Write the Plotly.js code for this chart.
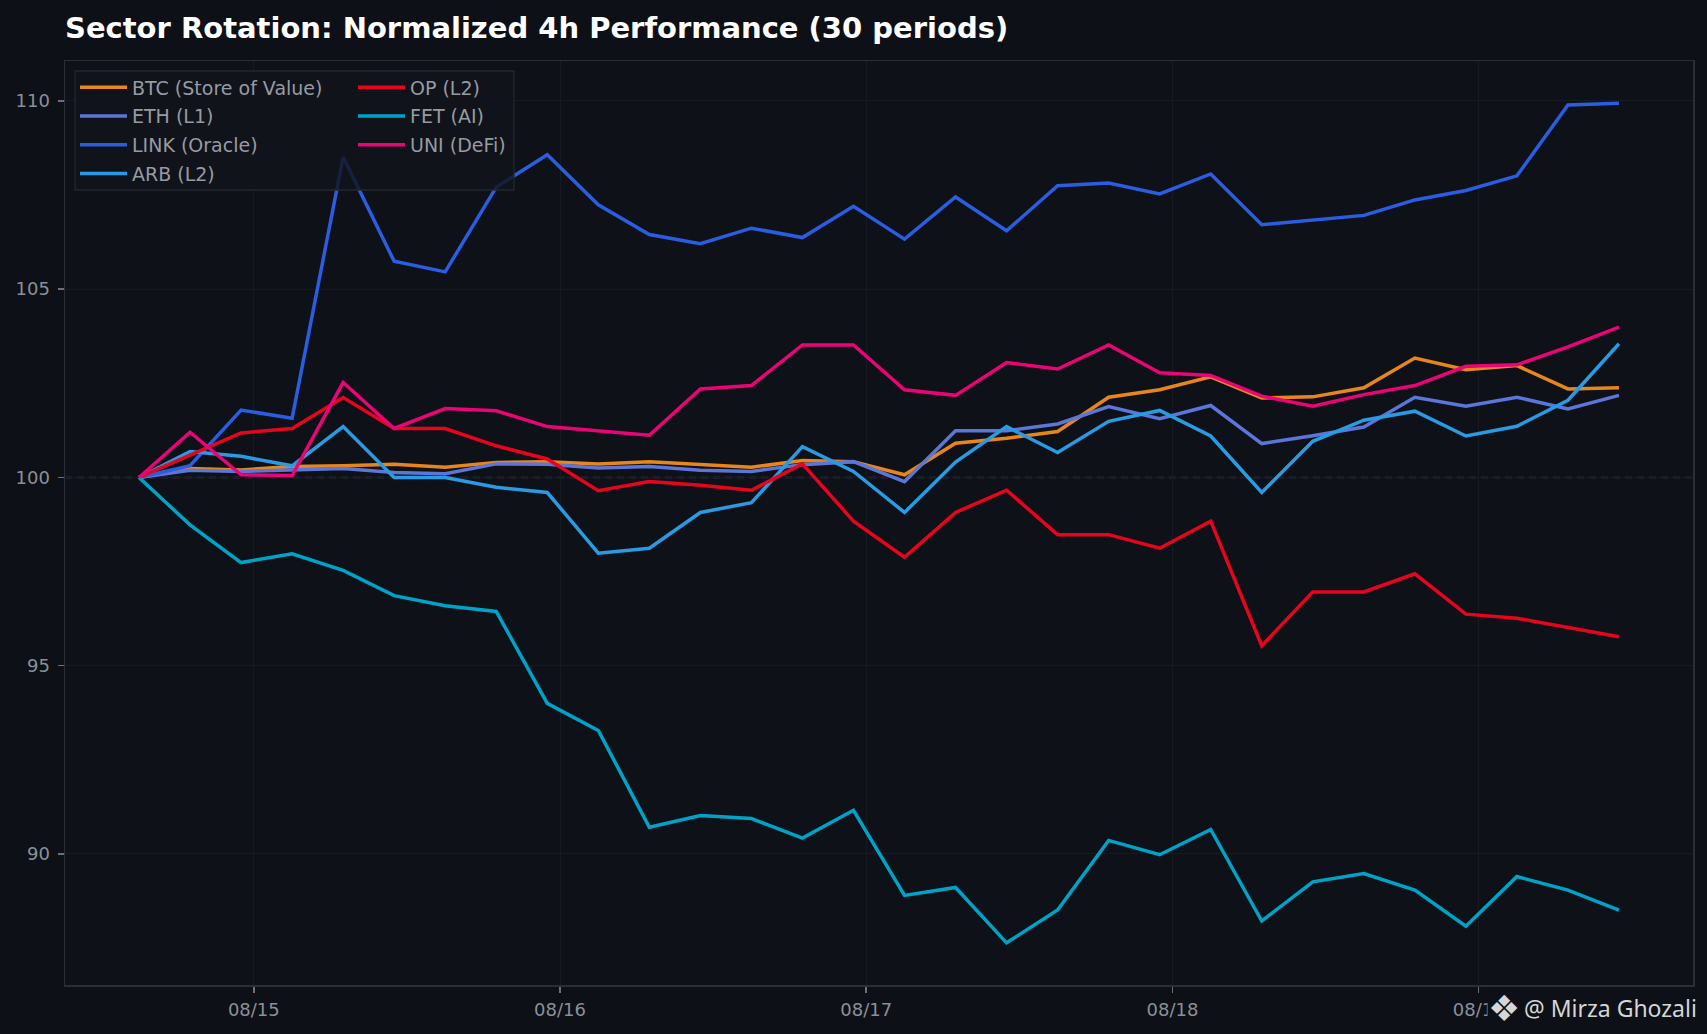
<!DOCTYPE html>
<html>
<head>
<meta charset="utf-8">
<script src="https://cdn.plot.ly/plotly-3.0.1.min.js"></script>
<style>
  html, body { margin: 0; padding: 0; background: #0d1016; }
  #data { width: 1707px; height: 1034px; }
</style>
</head>
<body>
<div id="data"></div>
<script>
var timestamps = [
  '2025-08-14 15:00', '2025-08-14 19:00', '2025-08-14 23:00',
  '2025-08-15 03:00', '2025-08-15 07:00', '2025-08-15 11:00', '2025-08-15 15:00', '2025-08-15 19:00', '2025-08-15 23:00',
  '2025-08-16 03:00', '2025-08-16 07:00', '2025-08-16 11:00', '2025-08-16 15:00', '2025-08-16 19:00', '2025-08-16 23:00',
  '2025-08-17 03:00', '2025-08-17 07:00', '2025-08-17 11:00', '2025-08-17 15:00', '2025-08-17 19:00', '2025-08-17 23:00',
  '2025-08-18 03:00', '2025-08-18 07:00', '2025-08-18 11:00', '2025-08-18 15:00', '2025-08-18 19:00', '2025-08-18 23:00',
  '2025-08-19 03:00', '2025-08-19 07:00', '2025-08-19 11:00'
];

var btc = [100, 100.24, 100.2, 100.29, 100.31, 100.35, 100.27, 100.4, 100.42, 100.36, 100.42, 100.34, 100.27, 100.45, 100.42,
  100.07, 100.91, 101.04, 101.22, 102.13, 102.33, 102.67, 102.11, 102.14, 102.38, 103.17, 102.86, 102.97, 102.35, 102.38];
var eth = [100, 100.19, 100.16, 100.2, 100.24, 100.13, 100.1, 100.36, 100.35, 100.25, 100.29, 100.19, 100.16, 100.34, 100.42,
  99.89, 101.24, 101.24, 101.42, 101.88, 101.56, 101.91, 100.9, 101.11, 101.34, 102.13, 101.89, 102.13, 101.82, 102.18];
var link = [100, 100.31, 101.79, 101.57, 108.51, 105.74, 105.46, 107.71, 108.57, 107.24, 106.45, 106.21, 106.62, 106.37, 107.2,
  106.33, 107.45, 106.55, 107.75, 107.82, 107.53, 108.06, 106.71, 106.84, 106.96, 107.37, 107.62, 108.01, 109.89, 109.94];
var arb = [100, 100.69, 100.56, 100.31, 101.35, 100, 100, 99.74, 99.6, 97.99, 98.12, 99.07, 99.33, 100.82, 100.16,
  99.07, 100.41, 101.35, 100.66, 101.49, 101.78, 101.1, 99.6, 100.96, 101.52, 101.76, 101.1, 101.36, 102.05, 103.55];
var op = [100, 100.6, 101.18, 101.3, 102.12, 101.3, 101.3, 100.84, 100.49, 99.65, 99.89, 99.79, 99.66, 100.36, 98.84,
  97.88, 99.07, 99.66, 98.48, 98.48, 98.12, 98.84, 95.53, 96.96, 96.96, 97.44, 96.37, 96.26, 96.02, 95.77];
var fet = [100, 98.74, 97.74, 97.97, 97.53, 96.86, 96.59, 96.44, 94.0, 93.28, 90.71, 91.02, 90.94, 90.42, 91.16,
  88.9, 89.11, 87.64, 88.51, 90.36, 89.98, 90.65, 88.22, 89.26, 89.48, 89.04, 88.08, 89.4, 89.04, 88.51];
var uni = [100, 101.2, 100.07, 100.05, 102.52, 101.3, 101.83, 101.77, 101.35, 101.24, 101.12, 102.35, 102.44, 103.52, 103.52,
  102.33, 102.18, 103.05, 102.88, 103.52, 102.78, 102.71, 102.16, 101.89, 102.2, 102.44, 102.95, 102.99, 103.47, 103.99];

var seriesNames = ['BTC (Store of Value)', 'ETH (L1)', 'LINK (Oracle)', 'ARB (L2)', 'OP (L2)', 'FET (AI)', 'UNI (DeFi)'];
var seriesValues = [btc, eth, link, arb, op, fet, uni];
var seriesColors = ['#e6861c', '#5b75d8', '#2a5de2', '#2a9ae2', '#e8041e', '#00a3c8', '#ea0475'];
var seriesLegend = ['legend', 'legend', 'legend', 'legend', 'legend2', 'legend2', 'legend2'];

var xTitle = '';
var yTitle = '';
var fontFamily = 'DejaVu Sans, Verdana, sans-serif';

// plot area in px: left 65, right 1693, top 61, bottom 985
function px_x(p) { return (p - 65) / 1628; }
function px_y(p) { return (985 - p) / 924; }

function legend_style(left) {
  return {
    x: px_x(left),
    y: px_y(68.5),
    xanchor: 'left',
    yanchor: 'top',
    bgcolor: 'rgba(0,0,0,0)',
    borderwidth: 0,
    itemwidth: 47,
    tracegroupgap: 1,
    font: {
      family: fontFamily,
      size: 19,
      color: '#969ba3'
    }
  };
}

var tickFont = {
  family: fontFamily,
  size: 18,
  color: '#8b9098'
};

var layout = {
  width: 1707,
  height: 1034,
  margin: {
    l: 65,
    r: 14,
    t: 61,
    b: 49,
    pad: 0
  },
  font: {
    family: fontFamily,
    color: '#8b9098'
  },
  title: {
    text: 'Sector Rotation: Normalized 4h Performance (30 periods)',
    x: 0,
    xref: 'paper',
    xanchor: 'left',
    y: 1 - 28 / 1034,
    yref: 'container',
    yanchor: 'middle',
    font: {
      family: fontFamily,
      size: 29,
      weight: 'bold',
      color: '#ffffff'
    }
  },
  plot_bgcolor: '#0e1118',
  paper_bgcolor: '#0d1016',
  showlegend: true,
  legend: legend_style(75),
  legend2: legend_style(353),
  xaxis: {
    type: 'date',
    title: { text: xTitle },
    range: ['2025-08-14 09:12', '2025-08-19 16:48'],
    tick0: '2025-08-15',
    dtick: 86400000,
    tickformat: '%m/%d',
    showgrid: true,
    gridcolor: '#161a21',
    gridwidth: 1,
    zeroline: false,
    showline: true,
    mirror: true,
    linecolor: '#2a2e37',
    linewidth: 1.5,
    ticks: 'outside',
    ticklen: 6,
    tickwidth: 1.5,
    tickcolor: '#6b7079',
    ticklabelstandoff: 2,
    tickfont: tickFont
  },
  yaxis: {
    title: { text: yTitle },
    range: [86.52, 111.06],
    tick0: 90,
    dtick: 5,
    showgrid: true,
    gridcolor: '#161a21',
    gridwidth: 1,
    zeroline: false,
    showline: true,
    mirror: true,
    linecolor: '#2a2e37',
    linewidth: 1.5,
    ticks: 'outside',
    ticklen: 6,
    tickwidth: 1.5,
    tickcolor: '#6b7079',
    ticklabelstandoff: 4,
    tickfont: tickFont
  },
  shapes: [
    {
      type: 'line',
      layer: 'between',
      xref: 'paper',
      x0: 0,
      x1: 1,
      yref: 'y',
      y0: 100,
      y1: 100,
      line: {
        color: '#484d56',
        width: 1.6,
        dash: '7px,5px'
      }
    },
    {
      type: 'rect',
      layer: 'above',
      xref: 'paper',
      yref: 'paper',
      x0: px_x(75),
      x1: px_x(514),
      y0: px_y(190),
      y1: px_y(71),
      fillcolor: 'rgba(17, 20, 27, 0.82)',
      line: {
        color: '#23272f',
        width: 1.3
      }
    }
  ],
  annotations: [
    {
      text: '❖',
      xref: 'paper',
      yref: 'paper',
      x: px_x(1504),
      y: px_y(1008),
      xanchor: 'center',
      yanchor: 'middle',
      showarrow: false,
      bgcolor: '#0d1016',
      borderpad: 0,
      font: {
        family: 'DejaVu Sans',
        size: 36,
        color: '#d6d6d6'
      }
    },
    {
      text: '@ Mirza Ghozali',
      xref: 'paper',
      yref: 'paper',
      x: px_x(1699),
      y: px_y(1008),
      xanchor: 'right',
      yanchor: 'middle',
      showarrow: false,
      font: {
        family: 'Noto Sans, Open Sans, sans-serif',
        size: 23,
        color: '#d6d6d6'
      }
    }
  ]
};

var config = {
  responsive: false,
  displayModeBar: false,
  staticPlot: true
};

function build_traces() {
  return seriesNames.map(function (name, i) {
    return {
      x: timestamps,
      y: seriesValues[i],
      type: 'scatter',
      mode: 'lines',
      name: name,
      legend: seriesLegend[i],
      legendgroup: 'g' + i,
      line: {
        color: seriesColors[i],
        width: 3.5
      }
    };
  });
}

Plotly.newPlot('data', build_traces(), layout, config);
</script>
</body>
</html>
